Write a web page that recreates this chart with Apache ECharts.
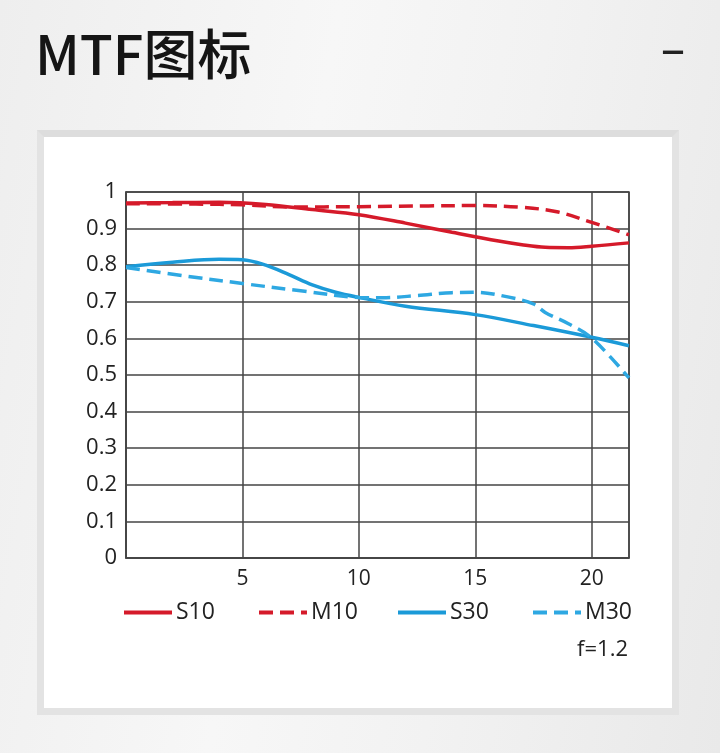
<!DOCTYPE html>
<html>
<head>
<meta charset="utf-8">
<script src="https://cdn.jsdelivr.net/npm/echarts@6/dist/echarts.min.js"></script>
<style>
  html, body { margin:0; padding:0; width:720px; height:753px; overflow:hidden; }
  body { background: linear-gradient(100deg, #eeeeee 0%, #f7f7f7 40%, #f2f2f2 65%, #e9e9e9 100%); position:relative; }
  #card { position:absolute; left:37px; top:130px; width:628px; height:571px; background:#fff; border:7px solid #e3e3e3; border-top-color:#dddddd; }
  #chart { position:absolute; left:0; top:0; width:720px; height:753px; }
</style>
</head>
<body>
<div id="card"></div>
<div id="chart"></div>
<script>
// Field position (mm) and MTF values
const s10X = [0, 2, 4, 6, 8, 10, 12, 14, 16, 17, 18, 19, 20, 21.6];
const s10Y = [0.970, 0.971, 0.972, 0.966, 0.952, 0.938, 0.915, 0.890, 0.866, 0.856, 0.849, 0.848, 0.852, 0.861];
const m10X = [0, 3, 5, 7, 10, 13, 15, 17, 18.5, 20, 21.6];
const m10Y = [0.968, 0.967, 0.965, 0.959, 0.960, 0.962, 0.963, 0.958, 0.946, 0.917, 0.883];
const s30X = [0, 2, 4, 5, 6, 7, 8, 9, 10, 12, 15, 17.5, 20, 21.6];
const s30Y = [0.796, 0.808, 0.816, 0.815, 0.800, 0.774, 0.746, 0.726, 0.712, 0.688, 0.665, 0.635, 0.603, 0.580];
const m30X = [0, 2.5, 5, 7.5, 10, 11, 12.5, 14, 15, 16.5, 17.5, 18, 19, 20, 21.6];
const m30Y = [0.794, 0.771, 0.750, 0.730, 0.712, 0.711, 0.717, 0.725, 0.726, 0.712, 0.694, 0.671, 0.640, 0.601, 0.492];
const seriesNames = ['S10', 'M10', 'S30', 'M30'];
const titleText = 'MTF图标';
const noteText = 'f=1.2';

const zip = (xs, ys) => xs.map((x, i) => [x, ys[i]]);
const RED = '#d51a2a', BLUE = '#1b9ad8', BLUE2 = '#2ea8e2';
const FONT = 'Open Sans';
const DASH = [14, 7];

const chart = echarts.init(document.getElementById('chart'), null, {renderer: 'canvas'});
const legendBase = (name, left) => ({
  data: [name], left: left, top: 601, padding: 0, itemWidth: 48, itemHeight: 14, itemGap: 0,
  textStyle: { fontFamily: FONT, fontSize: 23, color: '#222', padding: [0, 0, 0, -1] },
  itemStyle: { opacity: 0 },
  lineStyle: { width: 4 },
  selectedMode: false
});
const mk = (name, xs, ys, color, type) => ({
  name: name, type: 'line', data: zip(xs, ys), smooth: 0.35, symbol: 'none',
  lineStyle: { color: color, width: 3.5, type: type === 'dashed' ? DASH : 'solid' },
  itemStyle: { color: color }
});
chart.setOption({
  backgroundColor: 'transparent',
  animation: false,
  title: [
    { text: titleText, left: 30, top: 22, textStyle: { fontFamily: 'Noto Sans CJK SC', fontSize: 54, fontWeight: 500, color: '#151515' } },
    { text: '–', left: 656, top: 22, textStyle: { fontFamily: FONT, fontSize: 48, fontWeight: 'normal', color: '#222' } }
  ],
  legend: [
    legendBase(seriesNames[0], 122),
    legendBase(seriesNames[1], 257),
    legendBase(seriesNames[2], 396),
    legendBase(seriesNames[3], 531)
  ],
  graphic: [
    { type: 'text', right: 92, top: 639, style: { text: noteText, font: '22px "Open Sans"', fill: '#222' } }
  ],
  grid: { left: 126, top: 192, width: 503, height: 366, show: true, borderColor: '#444', borderWidth: 1.5, backgroundColor: 'transparent' },
  xAxis: {
    type: 'value', min: 0, max: 21.6, interval: 5,
    axisLine: { show: true, lineStyle: { color: '#444', width: 1.5 } },
    axisTick: { show: false },
    splitLine: { show: true, lineStyle: { color: '#444', width: 1.5 } },
    axisLabel: { fontFamily: FONT, fontSize: 21, color: '#222', margin: 11, showMaxLabel: false,
      formatter: v => (v === 0 ? '' : String(v)) }
  },
  yAxis: {
    type: 'value', min: 0, max: 1, interval: 0.1,
    axisLine: { show: true, lineStyle: { color: '#444', width: 1.5 } },
    axisTick: { show: false },
    splitLine: { show: true, lineStyle: { color: '#444', width: 1.5 } },
    axisLabel: { fontFamily: FONT, fontSize: 22, color: '#222', margin: 9,
      formatter: v => String(Math.round(v * 10) / 10) }
  },
  series: [
    mk(seriesNames[0], s10X, s10Y, RED, 'solid'),
    mk(seriesNames[1], m10X, m10Y, RED, 'dashed'),
    mk(seriesNames[2], s30X, s30Y, BLUE, 'solid'),
    mk(seriesNames[3], m30X, m30Y, BLUE2, 'dashed')
  ]
});
</script>
</body>
</html>
